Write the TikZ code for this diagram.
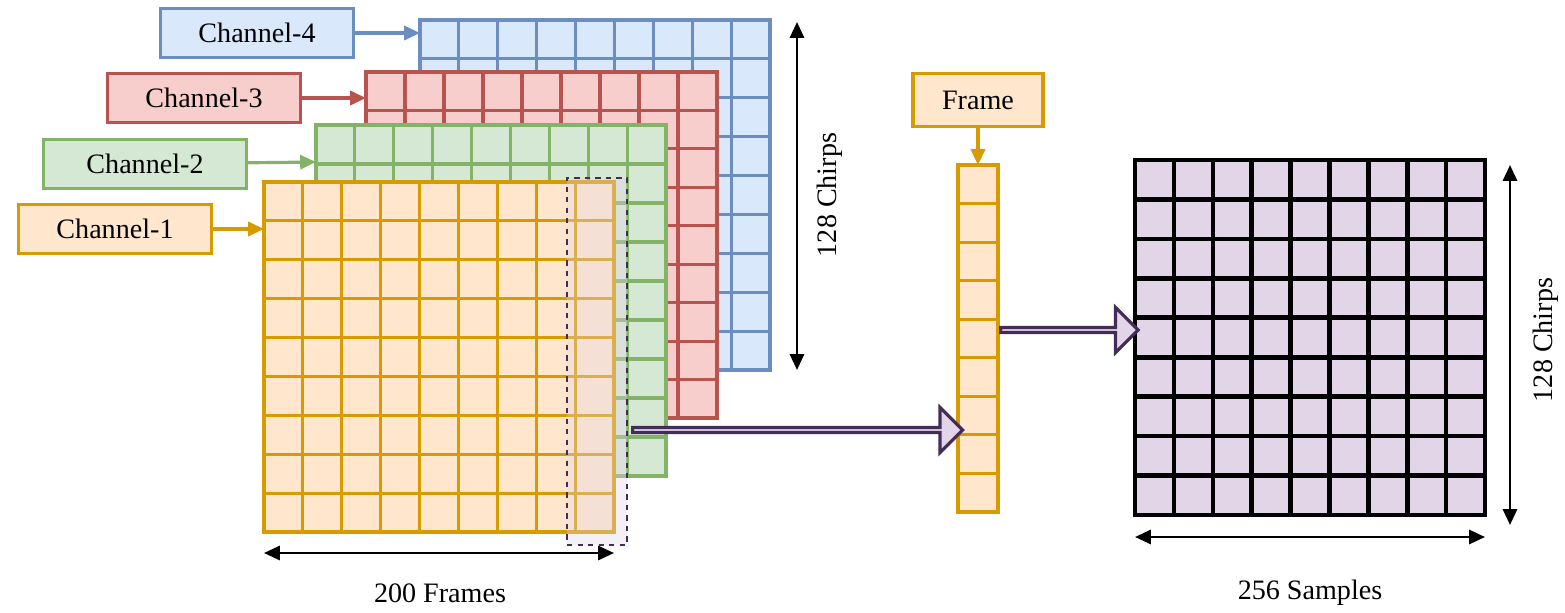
\documentclass[tikz,border=0pt]{standalone}
\usepackage{fontspec}
\setmainfont{Liberation Serif}
\usetikzlibrary{shapes.arrows,arrows.meta}
\definecolor{ofill}{HTML}{FFE6CC}\definecolor{oline}{HTML}{D79B00}
\definecolor{gfill}{HTML}{D5E8D4}\definecolor{gline}{HTML}{82B366}
\definecolor{rfill}{HTML}{F8CECC}\definecolor{rline}{HTML}{B85450}
\definecolor{bfill}{HTML}{DAE8FC}\definecolor{bline}{HTML}{6C8EBF}
\definecolor{pfill}{HTML}{E1D5E7}\definecolor{pline}{HTML}{432D57}
\newcommand{\mygrid}[6]{% x0 y0 w h cols rows ; uses current style
  \draw (#1,#2) rectangle ++(#3,#4);
  \foreach \i in {1,...,\numexpr#5-1\relax}{\draw (#1+\i*#3/#5,#2) -- ++(0,#4);}
  \foreach \j in {1,...,\numexpr#6-1\relax}{\draw (#1,#2+\j*#4/#6) -- ++(#3,0);}
}
\begin{document}
\begin{tikzpicture}[x=0.02cm,y=-0.02cm,font=\fontsize{16}{19}\selectfont,
  lab/.style={draw,line width=1.8pt,minimum width=3.85cm,minimum height=0.98cm,inner sep=0pt},
  con/.style={-{Triangle[length=9pt,width=8pt]},line width=1.8pt},
  dbl/.style={{Triangle[length=9pt,width=8pt]}-{Triangle[length=9pt,width=8pt]},line width=1.5pt},
  big/.style={single arrow,draw=pline,fill=pfill,line width=1.8pt,minimum height=#1,
    single arrow head extend=0.25cm,minimum width=0.9cm,inner sep=0pt,single arrow tip angle=90}]
\useasboundingbox (0,0) rectangle (1565,612);
% grids
\begin{scope}[line width=1.8pt]
\begin{scope}[draw=bline,fill=bfill]\fill[bfill] (420,20) rectangle ++(350,350);\mygrid{420}{20}{350}{350}{9}{9}\end{scope}
\begin{scope}[draw=rline]\fill[rfill] (366,72) rectangle ++(351,346);\mygrid{366}{72}{351}{346}{9}{9}\end{scope}
\begin{scope}[draw=gline]\fill[gfill] (316,125) rectangle ++(350,351);\mygrid{316}{125}{350}{351}{9}{9}\end{scope}
\begin{scope}[draw=oline]\fill[ofill] (264,182) rectangle ++(350,350);\mygrid{264}{182}{350}{350}{9}{9}\end{scope}
\begin{scope}[draw=oline]\fill[ofill] (958,165) rectangle ++(40,347);\mygrid{958}{165}{40}{347}{1}{9}\end{scope}
\begin{scope}[draw=black,line width=2.6pt]\fill[pfill] (1135,160) rectangle ++(350,355);\mygrid{1135}{160}{350}{355}{9}{9}\end{scope}
\end{scope}
\node[draw=pline,dashed,line width=1.5pt,fill=pfill,fill opacity=0.35,minimum width=1.2cm,minimum height=7.34cm,inner sep=0pt] (sel) at (597,361.5) {};
% labels
\node[lab,draw=bline,fill=bfill] (c4) at (257,33) {Channel-4};
\node[lab,draw=rline,fill=rfill] (c3) at (204,98) {Channel-3};
\node[lab,draw=gline,fill=gfill,minimum width=4.05cm] (c2) at (145,164) {Channel-2};
\node[lab,draw=oline,fill=ofill] (c1) at (115,229) {Channel-1};
\node[lab,draw=oline,fill=ofill,minimum width=2.6cm,minimum height=1.06cm] (fr) at (978,100) {Frame};
\coordinate (g4) at (420,33);\coordinate (g3) at (366,98);\coordinate (g2) at (316,162);\coordinate (g1) at (264,229);
\coordinate (ft) at (978,165);
\draw[con,bline] (c4) -- (g4);
\draw[con,rline] (c3) -- (g3);
\draw[con,gline] (c2) -- (g2);
\draw[con,oline] (c1) -- (g1);
\draw[con,oline] (fr) -- (ft);
% big arrows
\node[big=6.6cm,anchor=tail] (a1) at (631,430) {};
\node[big=2.75cm,anchor=tail] (a2) at (999,330) {};
% dimension arrows
\coordinate (v1a) at (797,22);\coordinate (v1b) at (797,370);
\draw[dbl] (v1a) -- (v1b);
\node[rotate=90] (l1) at (830,195) {128 Chirps};
\coordinate (h1a) at (264,553);\coordinate (h1b) at (614,553);
\draw[dbl] (h1a) -- (h1b);
\node (l2) at (440,593) {200 Frames};
\coordinate (v2a) at (1510,165);\coordinate (v2b) at (1510,525);
\draw[dbl] (v2a) -- (v2b);
\node[rotate=90] (l3) at (1546,340) {128 Chirps};
\coordinate (h2a) at (1135,537);\coordinate (h2b) at (1485,537);
\draw[dbl] (h2a) -- (h2b);
\node (l4) at (1310,593) {256 Samples};
\end{tikzpicture}
\end{document}
